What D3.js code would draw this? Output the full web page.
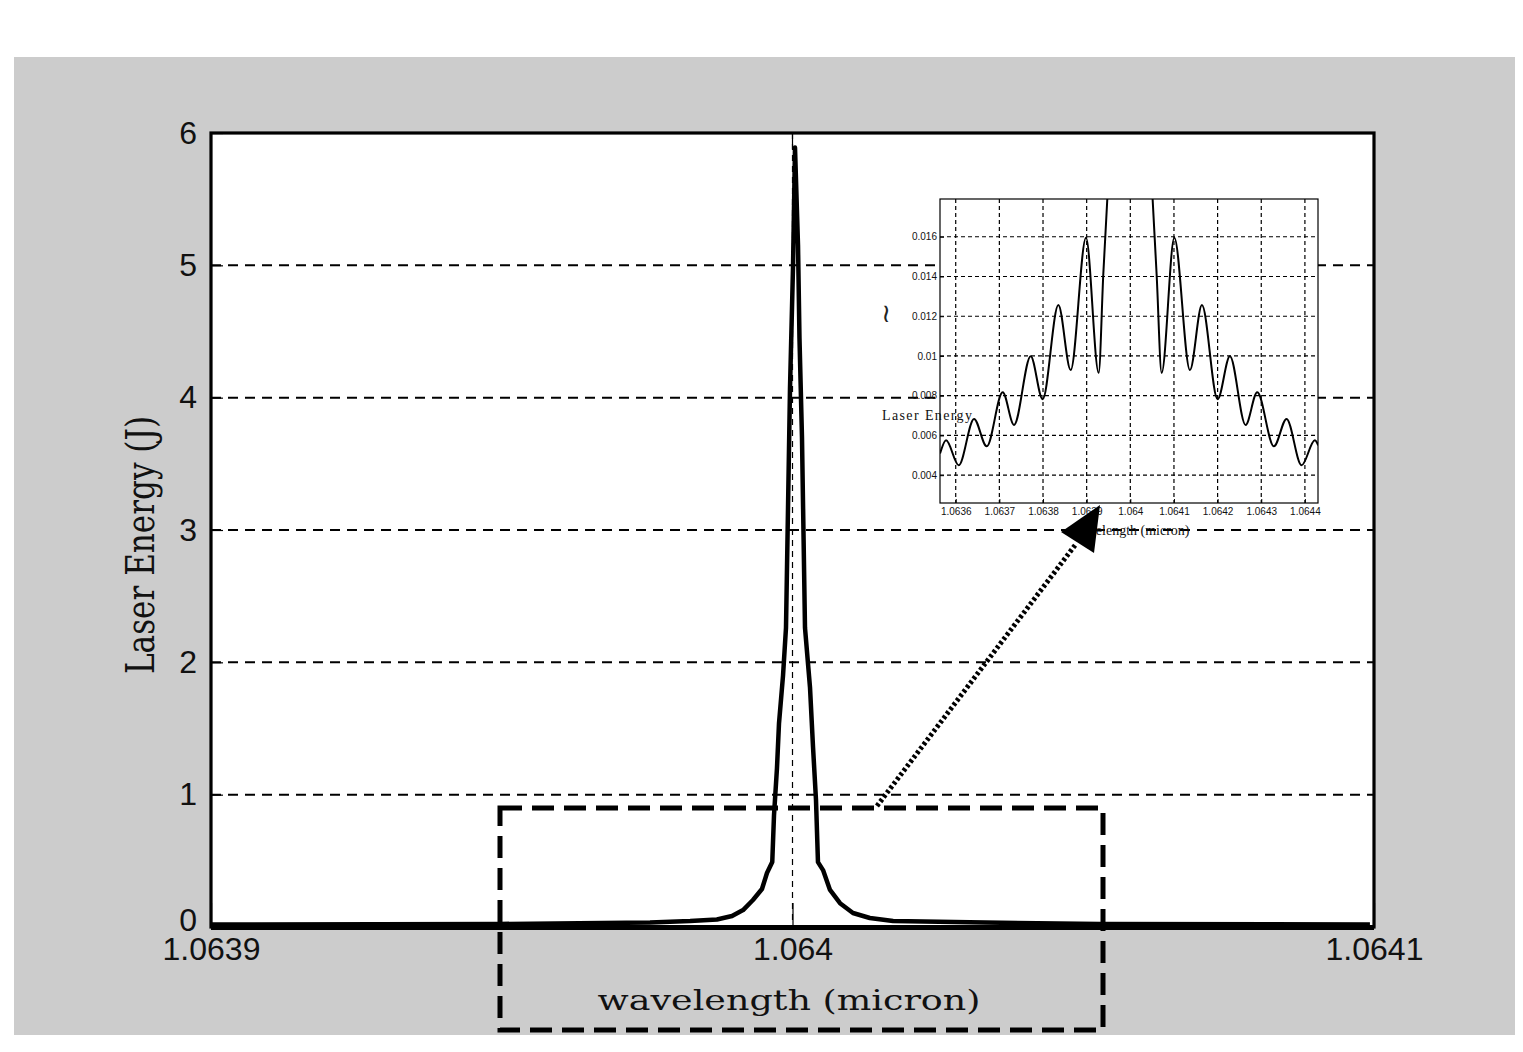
<!DOCTYPE html>
<html>
<head>
<meta charset="utf-8">
<script src="https://cdn.jsdelivr.net/npm/d3@7"></script>
<style>
    html, body { margin: 0; padding: 0; background: #fff; }
    svg { display: block; }
</style>
</head>
<body>
<svg id="chart" width="1523" height="1052"></svg>
<script>
// Main spectrum (wavelength in micron, energy in J)
const mainWave = [
    1.0639000, 1.0639497, 1.0639755, 1.0639824, 1.0639870, 1.0639896, 1.0639915,
    1.0639932, 1.06399475, 1.06399561, 1.06399652, 1.06399682, 1.06399733,
    1.06399768, 1.06399837, 1.06399888, 1.06399923, 1.06399957, 1.06400009,
    1.06400043, 1.06400095, 1.06400120, 1.06400163, 1.06400215, 1.06400301,
    1.06400353, 1.06400404, 1.06400438, 1.06400525, 1.06400645, 1.06400817,
    1.0640104, 1.0640133, 1.0640173, 1.0640331, 1.0640529, 1.0640993
];
const mainEnergy = [
    0.019, 0.023, 0.034, 0.045, 0.057, 0.083, 0.128,
    0.204, 0.287, 0.408, 0.491, 0.846, 1.20,
    1.54, 1.90, 2.26, 3.17, 4.07, 4.99,
    5.89, 5.15, 4.45, 3.70, 2.26, 1.81,
    1.36, 0.96, 0.49, 0.43, 0.28, 0.18,
    0.106, 0.068, 0.045, 0.034, 0.023, 0.019
];

// Inset (zoom on the side lobes); null marks where the main lobe leaves the box
const insetWave = [
    1.0635641, 1.0635779, 1.0636069, 1.0636420, 1.0636710, 1.0637076, 1.0637336,
    1.0637718, 1.0637992, 1.0638351, 1.0638634, 1.0638985, 1.0639275, 1.0639382,
    1.0639473, null,
    1.0640511, 1.0640603, 1.0640718, 1.0641008, 1.0641366, 1.0641641, 1.0642000,
    1.0642282, 1.0642641, 1.0642908, 1.0643290, 1.0643580, 1.0643924, 1.0644229,
    1.0644305
];
const insetEnergy = [
    0.00509, 0.00576, 0.00450, 0.00683, 0.00545, 0.00817, 0.00653,
    0.00999, 0.00782, 0.01256, 0.00929, 0.01595, 0.00915, 0.01415,
    0.01790, null,
    0.01790, 0.01410, 0.00915, 0.01595, 0.00929, 0.01256, 0.00782,
    0.00999, 0.00653, 0.00817, 0.00545, 0.00683, 0.00450, 0.00576,
    0.00550
];

const xTicks = [1.0639, 1.064, 1.0641];
const xTickLabels = ['1.0639', '1.064', '1.0641'];
const yTicks = [0, 1, 2, 3, 4, 5, 6];
const insetXTicks = [1.0636, 1.0637, 1.0638, 1.0639, 1.064, 1.0641, 1.0642, 1.0643, 1.0644];
const insetXTickLabels = ['1.0636', '1.0637', '1.0638', '1.0639', '1.064', '1.0641', '1.0642', '1.0643', '1.0644'];
const insetYTicks = [0.004, 0.006, 0.008, 0.01, 0.012, 0.014, 0.016];

const svg = d3.select('#chart');

// Figure background
svg.append('rect')
    .attr('x', 14).attr('y', 57)
    .attr('width', 1501).attr('height', 978)
    .attr('fill', '#cccccc');

// Main axes
const plot = { left: 211, right: 1374, top: 133, bottom: 927 };
const x = d3.scaleLinear().domain([1.0639, 1.0641]).range([plot.left, plot.right]);
const y = d3.scaleLinear().domain([0, 6]).range([plot.bottom, plot.top]);

svg.append('rect')
    .attr('x', plot.left).attr('y', plot.top)
    .attr('width', plot.right - plot.left).attr('height', plot.bottom - plot.top)
    .attr('fill', '#fff');

// Grid
svg.append('g')
    .selectAll('line')
    .data(yTicks.filter(d => d > 0 && d < 6))
    .join('line')
    .attr('x1', plot.left).attr('x2', plot.right)
    .attr('y1', d => y(d)).attr('y2', d => y(d))
    .attr('stroke', '#000')
    .attr('stroke-width', 2)
    .attr('stroke-dasharray', '10,7');

svg.append('line')
    .attr('x1', x(1.064)).attr('x2', x(1.064))
    .attr('y1', plot.top).attr('y2', plot.bottom)
    .attr('stroke', '#000')
    .attr('stroke-width', 1.2)
    .attr('stroke-dasharray', '6,5');

// Axes
const xAxis = svg.append('g')
    .attr('transform', `translate(0,${plot.bottom})`)
    .call(d3.axisBottom(x)
        .tickValues(xTicks)
        .tickFormat((d, i) => xTickLabels[i])
        .tickSizeInner(-24)
        .tickSizeOuter(0)
        .tickPadding(10));

const yAxis = svg.append('g')
    .attr('transform', `translate(${plot.left},0)`)
    .call(d3.axisLeft(y)
        .tickValues(yTicks)
        .tickFormat(d3.format('d'))
        .tickSizeInner(-12)
        .tickSizeOuter(0)
        .tickPadding(14));

[xAxis, yAxis].forEach(a => {
    a.select('.domain').remove();
    a.selectAll('.tick line').attr('stroke', '#000').attr('stroke-width', 1.2);
    a.selectAll('.tick text')
        .attr('fill', '#111')
        .style('font-family', '"Liberation Sans", Arial, sans-serif')
        .style('font-size', '32px');
});
// lift the "0" a little so it sits just above "1.0639"
yAxis.selectAll('.tick text').filter(d => d === 0).attr('dy', '0.1em');

// Top ticks mirrored
svg.append('g')
    .selectAll('line')
    .data(xTicks)
    .join('line')
    .attr('x1', d => x(d)).attr('x2', d => x(d))
    .attr('y1', plot.top).attr('y2', plot.top + 16)
    .attr('stroke', '#000')
    .attr('stroke-width', 1.2);

// Spectrum
const mainLine = d3.line()
    .x((d, i) => x(mainWave[i]))
    .y(d => y(d));

svg.append('path')
    .datum(mainEnergy)
    .attr('d', mainLine)
    .attr('fill', 'none')
    .attr('stroke', '#000')
    .attr('stroke-width', 4.5)
    .attr('stroke-linejoin', 'round');

// Frame
svg.append('rect')
    .attr('x', plot.left).attr('y', plot.top)
    .attr('width', plot.right - plot.left).attr('height', plot.bottom - plot.top)
    .attr('fill', 'none')
    .attr('stroke', '#000')
    .attr('stroke-width', 3.2);
svg.append('line')
    .attr('x1', plot.left).attr('x2', plot.right)
    .attr('y1', plot.bottom + 0.5).attr('y2', plot.bottom + 0.5)
    .attr('stroke', '#000')
    .attr('stroke-width', 5);

// Axis titles
svg.append('text')
    .attr('x', 789).attr('y', 1010)
    .attr('text-anchor', 'middle')
    .attr('textLength', 383)
    .attr('lengthAdjust', 'spacingAndGlyphs')
    .style('font-family', '"DejaVu Serif", serif')
    .style('font-size', '28px')
    .attr('fill', '#111')
    .text('wavelength (micron)');

svg.append('text')
    .attr('transform', 'translate(154,545) rotate(-90)')
    .attr('text-anchor', 'middle')
    .attr('textLength', 258)
    .attr('lengthAdjust', 'spacingAndGlyphs')
    .style('font-family', '"DejaVu Serif", serif')
    .style('font-size', '40px')
    .attr('fill', '#111')
    .text('Laser Energy (J)');

// ---- Inset ----
const inset = { left: 940, right: 1318, top: 199, bottom: 503 };
const ix = d3.scaleLinear().domain([1.063564, 1.06443]).range([inset.left, inset.right]);
const iy = d3.scaleLinear().domain([0.0026, 0.0179]).range([inset.bottom, inset.top]);

svg.append('rect')
    .attr('x', inset.left).attr('y', inset.top)
    .attr('width', inset.right - inset.left).attr('height', inset.bottom - inset.top)
    .attr('fill', '#fff');

svg.append('defs').append('clipPath')
    .attr('id', 'insetClip')
    .append('rect')
    .attr('x', inset.left).attr('y', inset.top)
    .attr('width', inset.right - inset.left).attr('height', inset.bottom - inset.top);

const ig = svg.append('g');

ig.append('g')
    .selectAll('line')
    .data(insetXTicks)
    .join('line')
    .attr('x1', d => ix(d)).attr('x2', d => ix(d))
    .attr('y1', inset.top).attr('y2', inset.bottom)
    .attr('stroke', '#000')
    .attr('stroke-width', 1.2)
    .attr('stroke-dasharray', '4,3');

ig.append('g')
    .selectAll('line')
    .data(insetYTicks)
    .join('line')
    .attr('x1', inset.left).attr('x2', inset.right)
    .attr('y1', d => iy(d)).attr('y2', d => iy(d))
    .attr('stroke', '#000')
    .attr('stroke-width', 1.2)
    .attr('stroke-dasharray', '4,3');

const insetLine = d3.line()
    .defined((d, i) => d !== null && insetWave[i] !== null)
    .x((d, i) => ix(insetWave[i]))
    .y(d => iy(d))
    .curve(d3.curveMonotoneX);

ig.append('path')
    .datum(insetEnergy)
    .attr('d', insetLine)
    .attr('clip-path', 'url(#insetClip)')
    .attr('fill', 'none')
    .attr('stroke', '#000')
    .attr('stroke-width', 2);

ig.append('rect')
    .attr('x', inset.left).attr('y', inset.top)
    .attr('width', inset.right - inset.left).attr('height', inset.bottom - inset.top)
    .attr('fill', 'none')
    .attr('stroke', '#000')
    .attr('stroke-width', 1.2);

const ixAxis = ig.append('g')
    .attr('transform', `translate(0,${inset.bottom})`)
    .call(d3.axisBottom(ix)
        .tickValues(insetXTicks)
        .tickFormat((d, i) => insetXTickLabels[i])
        .tickSizeInner(-4)
        .tickSizeOuter(0)
        .tickPadding(5));

const iyAxis = ig.append('g')
    .attr('transform', `translate(${inset.left},0)`)
    .call(d3.axisLeft(iy)
        .tickValues(insetYTicks)
        .tickFormat(d3.format('~g'))
        .tickSizeInner(-4)
        .tickSizeOuter(0)
        .tickPadding(3));

[ixAxis, iyAxis].forEach(a => {
    a.select('.domain').remove();
    a.selectAll('.tick line').attr('stroke', '#000');
    a.selectAll('.tick text')
        .attr('fill', '#111')
        .style('font-family', '"Liberation Sans", Arial, sans-serif')
        .style('font-size', '10px');
});

ig.append('text')
    .attr('x', 882).attr('y', 420)
    .attr('textLength', 90)
    .attr('lengthAdjust', 'spacing')
    .style('font-family', '"Liberation Serif", serif')
    .style('font-size', '14px')
    .attr('fill', '#111')
    .text('Laser Energy');

ig.append('text')
    .attr('x', 1131).attr('y', 535)
    .attr('text-anchor', 'middle')
    .style('font-family', '"Liberation Serif", serif')
    .style('font-size', '14px')
    .attr('fill', '#111')
    .text('wavelength (micron)');

ig.append('text')
    .attr('x', 886).attr('y', 322)
    .attr('text-anchor', 'middle')
    .style('font-family', '"DejaVu Sans", sans-serif')
    .style('font-size', '26px')
    .attr('fill', '#222')
    .text('≀');

// ---- Annotations: zoom box and arrow ----
svg.append('rect')
    .attr('x', 500).attr('y', 808)
    .attr('width', 603).attr('height', 222)
    .attr('fill', 'none')
    .attr('stroke', '#000')
    .attr('stroke-width', 5)
    .attr('stroke-dasharray', '22,10');

svg.append('line')
    .attr('x1', 877).attr('y1', 806)
    .attr('x2', 1076).attr('y2', 544)
    .attr('stroke', '#000')
    .attr('stroke-width', 5)
    .attr('stroke-dasharray', '3,2.5');

svg.append('path')
    .attr('d', d3.line()([[1100, 505], [1061, 532], [1094, 553]]) + 'Z')
    .attr('fill', '#000');
</script>
</body>
</html>
